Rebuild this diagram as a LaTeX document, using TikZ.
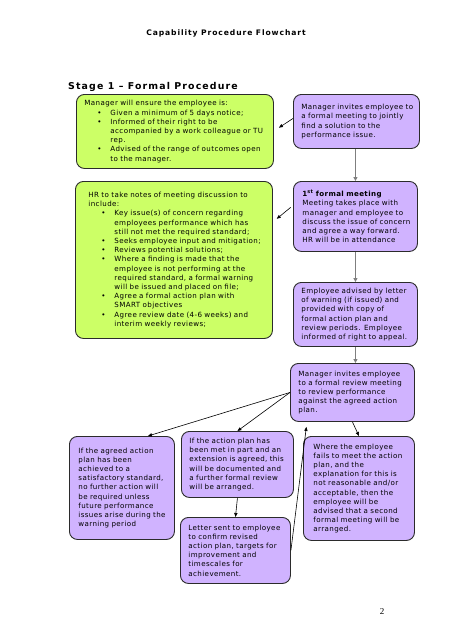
\documentclass[tikz,border=0pt]{standalone}
\usepackage{fontspec}
\setmainfont{DejaVu Sans}[LetterSpace=5.5]
\newfontfamily\headfont{DejaVu Sans}[LetterSpace=12]
\newfontfamily\pagefont{Liberation Serif}
\usepackage{xcolor}
\usepackage{tikz}
\usetikzlibrary{positioning, arrows.meta, calc}
\definecolor{limefill}{HTML}{CCFF66}
\definecolor{lilacfill}{HTML}{D0B3FF}
\definecolor{boxborder}{HTML}{2B2B2B}
\definecolor{linkgray}{HTML}{7F7F7F}

% bullet line with hanging indent
\newcommand{\bitem}[1]{\par{\advance\leftskip by 26pt\noindent\llap{\textbullet\hspace{9pt}}#1\par}}

\tikzset{
  limebox/.style={fill=limefill, draw=boxborder, line width=0.9pt, rounded corners=8pt,
    anchor=north west, inner xsep=0pt, inner ysep=0pt, align=left, font=\fontsize{7.1}{9.2}\selectfont},
  lilacbox/.style={limebox, fill=lilacfill},
  link/.style={draw=black, line width=0.6pt, -{Triangle[length=4pt,width=3.2pt]}},
  graylink/.style={draw=linkgray, line width=1.4pt, -{Triangle[length=4pt,width=4pt]}},
}

\begin{document}
\begin{tikzpicture}[x=1pt, y=-1pt]
    \fill[white] (0,0) rectangle (453,640);
    \useasboundingbox (0,0) rectangle (453,640);

    \node[font=\headfont\bfseries\fontsize{7.6}{9}\selectfont] (title) at (226,33) {Capability Procedure Flowchart};
    \node[font=\headfont\bfseries\fontsize{9.4}{11}\selectfont, anchor=west, inner sep=0pt] (stage) at (68,87) {Stage 1 \textendash\ Formal Procedure};

    % left column
    \node[limebox, text width=197pt, minimum height=74pt] (ensure) at (76,94) {\leftskip=8pt
      Manager will ensure the employee is:
      \bitem{Given a minimum of 5 days notice;}
      \bitem{Informed of their right to be\\ accompanied by a work colleague or TU\\ rep.}
      \bitem{Advised of the range of outcomes open\\ to the manager.}};
    \node[limebox, text width=197pt, minimum height=157pt] (hrnotes) at (75,181) {\leftskip=13pt
      HR to take notes of meeting discussion to\\ include:
      \bitem{Key issue(s) of concern regarding\\ employees performance which has\\ still not met the required standard;}
      \bitem{Seeks employee input and mitigation;}
      \bitem{Reviews potential solutions;}
      \bitem{Where a finding is made that the\\ employee is not performing at the\\ required standard, a formal warning\\ will be issued and placed on file;}
      \bitem{Agree a formal action plan with\\ SMART objectives}
      \bitem{Agree review date (4-6 weeks) and\\ interim weekly reviews;}};

    % right column
    \node[lilacbox, text width=126pt, minimum height=54pt] (invite) at (293,94) {\leftskip=8pt
      Manager invites employee to\\ a formal meeting to jointly\\ find a solution to the\\ performance issue.\par};
    \node[lilacbox, text width=124pt, minimum height=70pt] (firstmeet) at (293,181) {\leftskip=9pt
      \textbf{1\textsuperscript{st} formal meeting}\\ Meeting takes place with\\ manager and employee to\\ discuss the issue of concern\\ and agree a way forward.\\ HR will be in attendance\par};
    \node[lilacbox, text width=124pt, minimum height=64pt] (advised) at (293,282) {\leftskip=8pt
      Employee advised by letter\\ of warning (if issued) and\\ provided with copy of\\ formal action plan and\\ review periods. Employee\\ informed of right to appeal.\par};
    \node[lilacbox, text width=124pt, minimum height=58pt] (review) at (290,363) {\leftskip=8pt
      Manager invites employee\\ to a formal review meeting\\ to review performance\\ against the agreed action\\ plan.\par};

    % outcomes
    \node[lilacbox, text width=105pt, minimum height=103pt] (achieved) at (69,436) {\leftskip=9pt
      If the agreed action\\ plan has been\\ achieved to a\\ satisfactory standard,\\ no further action will\\ be required unless\\ future performance\\ issues arise during the\\ warning period\par};
    \node[lilacbox, text width=112pt, minimum height=66pt] (extension) at (181,431) {\leftskip=8pt
      If the action plan has\\ been met in part and an\\ extension is agreed, this\\ will be documented and\\ a further formal review\\ will be arranged.\par};
    \node[lilacbox, text width=110pt, minimum height=66pt] (letter) at (180,517) {\leftskip=8pt
      Letter sent to employee\\ to confirm revised\\ action plan, targets for\\ improvement and\\ timescales for\\ achievement.\par};
    \node[lilacbox, text width=111pt, minimum height=104pt] (second) at (303,436) {\leftskip=10pt
      Where the employee\\ fails to meet the action\\ plan, and the\\ explanation for this is\\ not reasonable and/or\\ acceptable, then the\\ employee will be\\ advised that a second\\ formal meeting will be\\ arranged.\par};

    \node[font=\pagefont\fontsize{9}{10}\selectfont] (pageno) at (382,612) {2};

    % connectors
    \draw[link, shorten >=6pt] ([yshift=3pt]invite.west) -- ([yshift=-37pt]ensure.north east);
    \draw[graylink] (firstmeet.north |- invite.south) -- (firstmeet.north);
    \draw[link, shorten <=3pt, shorten >=5pt] ([yshift=11pt]firstmeet.west) -- ([yshift=-41pt]hrnotes.north east);
    \draw[graylink] (firstmeet.south) -- (advised.north);
    \draw[graylink] (advised.south) -- (advised.south |- review.north);
    \draw[link] (review.west) -- ([xshift=26pt]achieved.north);
    \draw[link] (review.west) -- (extension.north);
    \draw[link] (review.south) -- (second.north);
    \draw[link] (extension.south) -- (letter.north);
    \draw[link, shorten >=5pt] (letter.east) -- ([xshift=17pt]review.south west);
\end{tikzpicture}
\end{document}
